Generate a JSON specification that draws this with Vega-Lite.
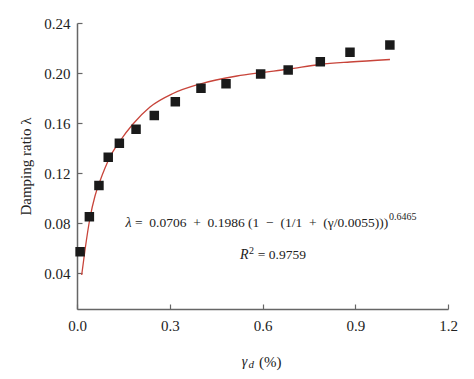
{
  "$schema": "https://vega.github.io/schema/vega-lite/v6.json",
  "width": 371,
  "height": 286,
  "autosize": {"type": "none"},
  "padding": {"left": 77, "top": 23, "right": 26, "bottom": 70},
  "background": "white",
  "config": {
    "view": {"stroke": null},
    "font": "Liberation Serif, Times New Roman, serif",
    "axis": {
      "domainColor": "#666666",
      "domainWidth": 1.5,
      "tickColor": "#666666",
      "tickWidth": 1.2,
      "tickSize": -5,
      "grid": false,
      "labelFlush": false,
      "labelFont": "Liberation Serif, Times New Roman, serif",
      "labelFontSize": 15,
      "labelColor": "#222222",
      "titleFont": "Liberation Serif, Times New Roman, serif",
      "titleFontSize": 15,
      "titleFontWeight": "normal",
      "titleColor": "#222222"
    }
  },
  "datasets": {
    "points": [
      {"strain": 0.010, "damping": 0.057},
      {"strain": 0.040, "damping": 0.085},
      {"strain": 0.071, "damping": 0.110},
      {"strain": 0.101, "damping": 0.1326},
      {"strain": 0.137, "damping": 0.1438},
      {"strain": 0.191, "damping": 0.155},
      {"strain": 0.250, "damping": 0.166},
      {"strain": 0.318, "damping": 0.177},
      {"strain": 0.401, "damping": 0.1878},
      {"strain": 0.482, "damping": 0.1914},
      {"strain": 0.594, "damping": 0.1992},
      {"strain": 0.683, "damping": 0.2024},
      {"strain": 0.787, "damping": 0.209},
      {"strain": 0.883, "damping": 0.2166},
      {"strain": 1.012, "damping": 0.2224}
    ],
    "curve": [
      {"strain": 0.0152, "damping": 0.0384},
      {"strain": 0.0259, "damping": 0.0584},
      {"strain": 0.0420, "damping": 0.0840},
      {"strain": 0.0582, "damping": 0.1016},
      {"strain": 0.0744, "damping": 0.1136},
      {"strain": 0.0906, "damping": 0.1240},
      {"strain": 0.1067, "damping": 0.1328},
      {"strain": 0.1391, "damping": 0.1456},
      {"strain": 0.1811, "damping": 0.1592},
      {"strain": 0.2361, "damping": 0.1728},
      {"strain": 0.3105, "damping": 0.1836},
      {"strain": 0.3978, "damping": 0.1912},
      {"strain": 0.5175, "damping": 0.1976},
      {"strain": 0.5919, "damping": 0.2002},
      {"strain": 0.6824, "damping": 0.2030},
      {"strain": 0.7859, "damping": 0.2068},
      {"strain": 0.8829, "damping": 0.2088},
      {"strain": 1.0123, "damping": 0.2108}
    ],
    "notes": [
      {"role": "italic", "x": 0.157, "y": 0.080, "label": "λ"},
      {"role": "normal", "x": 0.1876, "y": 0.080, "label": "=\u20020.0706\u2002+\u20020.1986 (1\u2002\u2212\u2002(1/1\u2002+\u2002(γ/0.0055)))"},
      {"role": "small", "x": 1.009, "y": 0.0845, "label": "0.6465"},
      {"role": "italic", "x": 0.527, "y": 0.0544, "label": "R"},
      {"role": "small", "x": 0.556, "y": 0.0578, "label": "2"},
      {"role": "normal", "x": 0.585, "y": 0.0544, "label": "= 0.9759"},
      {"role": "xitalic", "x": 0.533, "y": -0.031, "label": "γ"},
      {"role": "xsub", "x": 0.555, "y": -0.0338, "label": "d"},
      {"role": "xnormal", "x": 0.589, "y": -0.031, "label": "(%)"}
    ]
  },
  "encoding": {
    "x": {
      "field": "strain",
      "type": "quantitative",
      "scale": {"domain": [0, 1.2], "nice": false, "zero": false},
      "axis": {"values": [0, 0.3, 0.6, 0.9, 1.2], "format": ".1f", "labelPadding": 14, "title": null}
    },
    "y": {
      "field": "damping",
      "type": "quantitative",
      "scale": {"domain": [0.0112, 0.24], "nice": false, "zero": false},
      "axis": {"values": [0.04, 0.08, 0.12, 0.16, 0.2, 0.24], "format": ".2f", "labelPadding": 12, "title": "Damping ratio λ", "titlePadding": 10}
    }
  },
  "layer": [
    {
      "data": {"name": "curve"},
      "mark": {"type": "line", "color": "#c8443a", "strokeWidth": 1.3, "interpolate": "monotone"}
    },
    {
      "data": {"name": "points"},
      "mark": {"type": "point", "shape": "square", "filled": true, "size": 90, "color": "#1a1a1a", "opacity": 1}
    },
    {
      "data": {"name": "notes"},
      "transform": [{"filter": "datum.role === 'italic' || datum.role === 'xitalic'"}],
      "mark": {"type": "text", "align": "left", "baseline": "middle", "fontSize": 14, "fontStyle": "italic", "color": "#222222", "font": "Liberation Serif, Times New Roman, serif"},
      "encoding": {
        "x": {"field": "x", "type": "quantitative"},
        "y": {"field": "y", "type": "quantitative"},
        "text": {"field": "label"}
      }
    },
    {
      "data": {"name": "notes"},
      "transform": [{"filter": "datum.role === 'normal'"}],
      "mark": {"type": "text", "align": "left", "baseline": "middle", "fontSize": 13.5, "color": "#222222", "font": "Liberation Serif, Times New Roman, serif"},
      "encoding": {
        "x": {"field": "x", "type": "quantitative"},
        "y": {"field": "y", "type": "quantitative"},
        "text": {"field": "label"}
      }
    },
    {
      "data": {"name": "notes"},
      "transform": [{"filter": "datum.role === 'xnormal'"}],
      "mark": {"type": "text", "align": "left", "baseline": "middle", "fontSize": 15, "color": "#222222", "font": "Liberation Serif, Times New Roman, serif"},
      "encoding": {
        "x": {"field": "x", "type": "quantitative"},
        "y": {"field": "y", "type": "quantitative"},
        "text": {"field": "label"}
      }
    },
    {
      "data": {"name": "notes"},
      "transform": [{"filter": "datum.role === 'small'"}],
      "mark": {"type": "text", "align": "left", "baseline": "middle", "fontSize": 10, "color": "#222222", "font": "Liberation Serif, Times New Roman, serif"},
      "encoding": {
        "x": {"field": "x", "type": "quantitative"},
        "y": {"field": "y", "type": "quantitative"},
        "text": {"field": "label"}
      }
    },
    {
      "data": {"name": "notes"},
      "transform": [{"filter": "datum.role === 'xsub'"}],
      "mark": {"type": "text", "align": "left", "baseline": "middle", "fontSize": 11, "fontStyle": "italic", "color": "#222222", "font": "Liberation Serif, Times New Roman, serif"},
      "encoding": {
        "x": {"field": "x", "type": "quantitative"},
        "y": {"field": "y", "type": "quantitative"},
        "text": {"field": "label"}
      }
    }
  ]
}
